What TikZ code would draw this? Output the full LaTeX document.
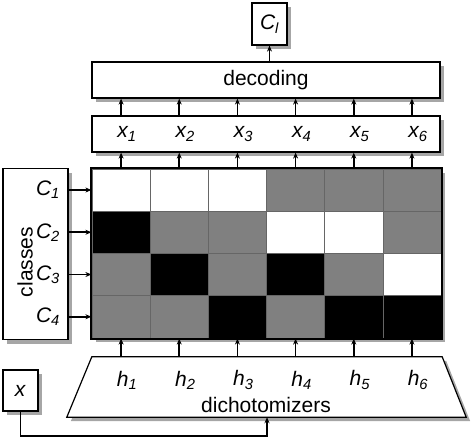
\documentclass[tikz,border=0pt]{standalone}
\usepackage{fontspec}
\setmainfont{Liberation Sans}
\usetikzlibrary{shadows,arrows.meta}

\colorlet{cell0}{white}
\colorlet{cell1}{black!50}
\colorlet{cell2}{black}

\begin{document}
\begin{tikzpicture}[x=1pt, y=-1pt, font=\fontsize{21}{24}\selectfont,
    box/.style={draw, line width=1.2pt, fill=white, inner sep=0pt,
        drop shadow={shadow xshift=4pt, shadow yshift=-4pt, fill=black!35, opacity=1}},
    arrow/.style={-{Stealth[length=6pt, width=5pt]}, line width=1.6pt}]
    \useasboundingbox (0, 0) rectangle (474, 440);

    \node[box, minimum width=35pt, minimum height=42pt] (out) at (269.5, 24) {\textit{C\textsubscript{l}}};
    \node[box, minimum width=348pt, minimum height=36pt] (dec) at (266, 80) {decoding};
    \node[box, minimum width=348pt, minimum height=36pt] (xrow) at (266, 134) {};
    \node[box, minimum width=349pt, minimum height=169pt] (code) at (266.5, 253.5) {};
    \node[box, minimum width=65pt, minimum height=171pt] (cls) at (35.5, 254) {};
    \node[box, minimum width=35pt, minimum height=41pt] (xin) at (20.5, 390.5) {\textit{x}};

    % dichotomizers block
    \node[inner sep=0pt, minimum width=350pt, minimum height=60pt] (dich) at (267, 387) {};
    \draw[box] ([xshift=-25pt]dich.south west) -- (dich.north west) -- (dich.north east)
        -- ([xshift=24pt]dich.south east) -- cycle;

    \node[rotate=90] (clsname) at (25, 262) {classes};
    \node (dichname) at (266, 405) {dichotomizers};

    % code matrix
    \foreach \row/\cols in {1/{0,0,0,1,1,1}, 2/{2,1,1,0,0,1}, 3/{1,2,1,2,1,0}, 4/{1,1,2,1,2,2}} {
        \foreach \v [count=\col] in \cols
            \filldraw[fill=cell\v, draw=black!60, line width=0.6pt]
                ({92+58.17*(\col-1)}, {169+42.25*(\row-1)}) rectangle ++(58.17, 42.25);
        \node (c\row) at (48, {190+42.25*(\row-1)}) {\textit{C\textsubscript{\row}}};
        \draw[arrow] (cls.east |- c\row) -- (code.west |- c\row);
    }
    \draw[line width=2pt] (code.north west) rectangle (code.south east);

    \foreach \i in {1,...,6} {
        \coordinate (col\i) at ({92+58.17*(\i-0.5)}, 0);
        \node (x\i) at ({98+58.17*(\i-0.5)}, 134) {\textit{x\textsubscript{\i}}};
        \node (h\i) at ({98+58.17*(\i-0.5)}, 380) {\textit{h\textsubscript{\i}}};
        \draw[arrow] (dich.north -| col\i) -- (code.south -| col\i);
        \draw[arrow] (code.north -| col\i) -- (xrow.south -| col\i);
        \draw[arrow] (xrow.north -| col\i) -- (dec.south -| col\i);
    }

    \draw[arrow] (dec.north -| out) -- (out.south);
    \draw[arrow] (xin.south) |- ([yshift=-19pt]dich.south) -- (dich.south);
\end{tikzpicture}
\end{document}
